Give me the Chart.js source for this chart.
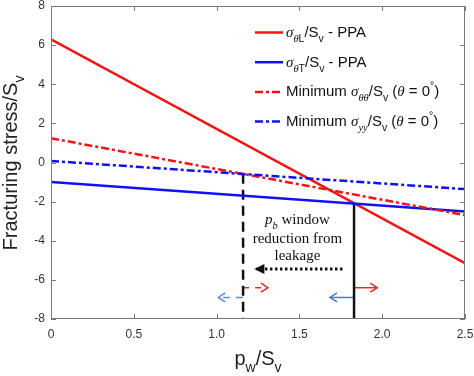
<!DOCTYPE html>
<html>
<head>
<meta charset="utf-8">
<script src="https://cdn.jsdelivr.net/npm/chart.js@4.4.0/dist/chart.umd.min.js"></script>
<style>
  html, body { margin: 0; padding: 0; background: #fff; }
  #wrap { width: 474px; height: 376px; }
</style>
</head>
<body>
<div id="wrap"><canvas id="myChart" width="474" height="376"></canvas></div>
<script>
// end points of the straight lines (pw/Sv)
const pwSv = [0, 2.5];
const sigmaThetaL = [6.3, -5.15];
const sigmaThetaT = [-1.0, -2.5];
const minSigmaThetaTheta = [1.24, -2.69];
const minSigmaYY = [0.08, -1.36];

const xTicks = [0, 0.5, 1, 1.5, 2, 2.5];
const yTicks = [-8, -6, -4, -2, 0, 2, 4, 6, 8];

// breakdown window: x position and where each marker line starts
const windowX = [1.16, 1.83];
const windowTop = [-0.58, -2.08];
const yBottom = -8;

// arrows: [x from, x to, y]
const leakArrow = [1.76, 1.24, -5.45];
const redSolidArrow = [1.83, 1.97, -6.4];
const blueSolidArrow = [1.83, 1.685, -6.9];
const redDashArrow = [1.16, 1.31, -6.4];
const blueDashArrow = [1.16, 1.01, -6.9];

// text annotation: centre x, baselines y
const noteX = 1.488;
const noteY = [-3.14, -4.11, -4.98];

const RED = '#f21414';
const BLUE = '#1212f0';
const SANS = "'Liberation Sans', Arial, sans-serif";
const SERIF = "'Liberation Serif', 'Times New Roman', serif";

function series(xs, ys, color, width, dash, extra) {
    return Object.assign({
        data: xs.map((x, i) => ({ x: x, y: ys[i] })),
        borderColor: color,
        backgroundColor: color,
        borderWidth: width,
        borderDash: dash,
        showLine: true,
        pointRadius: 0,
        fill: false
    }, extra || {});
}
function arrow(a, color, width, dash, head) {
    return series([a[0], a[1]], [a[2], a[2]], color, width, dash, { head: head });
}

// draws text with sub/superscripts; st: s=sub, p=sup, i=italic serif
function drawRich(ctx, x, y, parts, size, family, measureOnly) {
    let x0 = x;
    parts.forEach(function (p) {
        const t = p[0], st = p[1] || '';
        const sub = st.includes('s'), sup = st.includes('p'), it = st.includes('i');
        const fs = (sub || sup) ? size * 0.7 : size;
        ctx.font = (it ? 'italic ' : '') + fs + 'px ' + (it ? SERIF : family);
        const dy = sub ? size * 0.33 : sup ? -size * 0.5 : 0;
        if (!measureOnly) ctx.fillText(t, x, y + dy);
        x += ctx.measureText(t).width;
    });
    return x - x0;
}

const arrowHeads = {
    id: 'arrowHeads',
    afterDatasetsDraw(chart) {
        const ctx = chart.ctx;
        chart.data.datasets.forEach(function (ds, i) {
            if (!ds.head) return;
            const pts = chart.getDatasetMeta(i).data;
            const a = pts[0], b = pts[pts.length - 1];
            const ang = Math.atan2(b.y - a.y, b.x - a.x);
            ctx.save();
            ctx.translate(b.x, b.y);
            ctx.rotate(ang);
            ctx.strokeStyle = ds.borderColor;
            ctx.fillStyle = ds.borderColor;
            ctx.lineWidth = ds.borderWidth;
            ctx.setLineDash([]);
            ctx.beginPath();
            if (ds.head === 'filled') {
                ctx.moveTo(2, 0);
                ctx.lineTo(-8, -5);
                ctx.lineTo(-8, 5);
                ctx.closePath();
                ctx.fill();
            } else {
                ctx.moveTo(-7, -4.5);
                ctx.lineTo(0, 0);
                ctx.lineTo(-7, 4.5);
                ctx.stroke();
            }
            ctx.restore();
        });
    }
};

const frameAndText = {
    id: 'frameAndText',
    afterDraw(chart) {
        const ctx = chart.ctx;
        const a = chart.chartArea;
        const xs = chart.scales.x, ys = chart.scales.y;
        ctx.save();
        // box + inward ticks
        ctx.strokeStyle = '#7a7a7a';
        ctx.lineWidth = 1;
        ctx.strokeRect(a.left + 0.5, a.top + 0.5, a.right - a.left - 1, a.bottom - a.top - 1);
        ctx.beginPath();
        xTicks.forEach(function (v) {
            const px = Math.round(xs.getPixelForValue(v)) + 0.5;
            ctx.moveTo(px, a.bottom); ctx.lineTo(px, a.bottom - 5);
            ctx.moveTo(px, a.top); ctx.lineTo(px, a.top + 5);
        });
        yTicks.forEach(function (v) {
            const py = Math.round(ys.getPixelForValue(v)) + 0.5;
            ctx.moveTo(a.left, py); ctx.lineTo(a.left + 5, py);
            ctx.moveTo(a.right, py); ctx.lineTo(a.right - 5, py);
        });
        ctx.stroke();

        // legend
        const legend = [
            { color: RED, dash: [], parts: [['σ', 'i'], ['θ', 'is'], ['L', 's'], ['/S'], ['v', 's'], [' - PPA']] },
            { color: BLUE, dash: [], parts: [['σ', 'i'], ['θ', 'is'], ['T', 's'], ['/S'], ['v', 's'], [' - PPA']] },
            { color: RED, dash: [8, 3, 3, 3], parts: [['Minimum '], ['σ', 'i'], ['θθ', 'is'], ['/S'], ['v', 's'], [' ('], ['θ', 'i'], [' = 0'], ['°', 'p'], [')']] },
            { color: BLUE, dash: [8, 3, 3, 3], parts: [['Minimum '], ['σ', 'i'], ['yy', 'is'], ['/S'], ['v', 's'], [' ('], ['θ', 'i'], [' = 0'], ['°', 'p'], [')']] }
        ];
        const lx = a.left + 204, base0 = a.top + 31;
        legend.forEach(function (r, i) {
            const by = base0 + i * 29.7;
            ctx.strokeStyle = r.color;
            ctx.lineWidth = 2.5;
            ctx.setLineDash(r.dash);
            ctx.beginPath();
            ctx.moveTo(lx, by - 4.5); ctx.lineTo(lx + 28, by - 4.5);
            ctx.stroke();
            ctx.setLineDash([]);
            ctx.fillStyle = '#111';
            ctx.textBaseline = 'alphabetic';
            ctx.textAlign = 'left';
            drawRich(ctx, lx + 31, by, r.parts, 15, SANS);
        });

        // axis titles
        ctx.fillStyle = '#222';
        const xt = [['p'], ['w', 's'], ['/S'], ['v', 's']];
        const xw = drawRich(ctx, 0, 0, xt, 20, SANS, true);
        drawRich(ctx, 258 - xw / 2, 365, xt, 20, SANS);
        const yt = [['Fracturing stress/S'], ['v', 's']];
        const yw = drawRich(ctx, 0, 0, yt, 20, SANS, true);
        ctx.save();
        ctx.translate(17, 163);
        ctx.rotate(-Math.PI / 2);
        drawRich(ctx, -yw / 2, 0, yt, 20, SANS);
        ctx.restore();

        // note
        ctx.fillStyle = '#111';
        const lines = [
            [['p', 'i'], ['b', 'is'], [' window']],
            [['reduction from']],
            [['leakage']]
        ];
        const cx = xs.getPixelForValue(noteX);
        lines.forEach(function (ln, i) {
            const w = drawRich(ctx, 0, 0, ln, 15, SERIF, true);
            drawRich(ctx, cx - w / 2, ys.getPixelForValue(noteY[i]), ln, 15, SERIF);
        });
        ctx.restore();
    }
};

const ctx = document.getElementById('myChart').getContext('2d');
new Chart(ctx, {
    type: 'scatter',
    data: {
        datasets: [
            series(pwSv, minSigmaYY, BLUE, 2.5, [8, 3, 3, 3]),
            series(pwSv, minSigmaThetaTheta, RED, 2.5, [8, 3, 3, 3]),
            series(pwSv, sigmaThetaT, BLUE, 2.5, []),
            series(pwSv, sigmaThetaL, RED, 2.5, []),
            series([windowX[0], windowX[0]], [windowTop[0], yBottom], '#111', 2.5, [10, 6]),
            series([windowX[1], windowX[1]], [windowTop[1], yBottom], '#111', 2.5, []),
            arrow(leakArrow, '#111', 3, [2.5, 2.5], 'filled'),
            arrow(redSolidArrow, '#e8262a', 1.5, [], 'open'),
            arrow(blueSolidArrow, '#4a7cc0', 1.5, [], 'open'),
            arrow(redDashArrow, '#e8262a', 1.5, [6, 6], 'open'),
            arrow(blueDashArrow, '#5d8fd0', 1.5, [7, 6], 'open')
        ]
    },
    options: {
        responsive: false,
        animation: false,
        layout: { padding: { top: 6, right: 9, left: 0, bottom: 0 } },
        plugins: { legend: { display: false }, tooltip: { enabled: false } },
        scales: {
            x: {
                type: 'linear', min: 0, max: 2.5,
                afterFit: function (s) { s.height = 57; s.paddingLeft = 0; s.paddingRight = 0; },
                afterBuildTicks: function (s) { s.ticks = xTicks.map(function (v) { return { value: v }; }); },
                grid: { display: false, drawTicks: false },
                border: { display: false },
                ticks: { padding: 8, color: '#333', font: { family: SANS, size: 12 }, maxRotation: 0, autoSkip: false }
            },
            y: {
                type: 'linear', min: -8, max: 8,
                afterFit: function (s) { s.width = 51; s.paddingTop = 0; s.paddingBottom = 0; },
                afterBuildTicks: function (s) { s.ticks = yTicks.map(function (v) { return { value: v }; }); },
                grid: { display: false, drawTicks: false },
                border: { display: false },
                ticks: { padding: 6, color: '#333', font: { family: SANS, size: 12 }, autoSkip: false }
            }
        }
    },
    plugins: [arrowHeads, frameAndText]
});
</script>
</body>
</html>
